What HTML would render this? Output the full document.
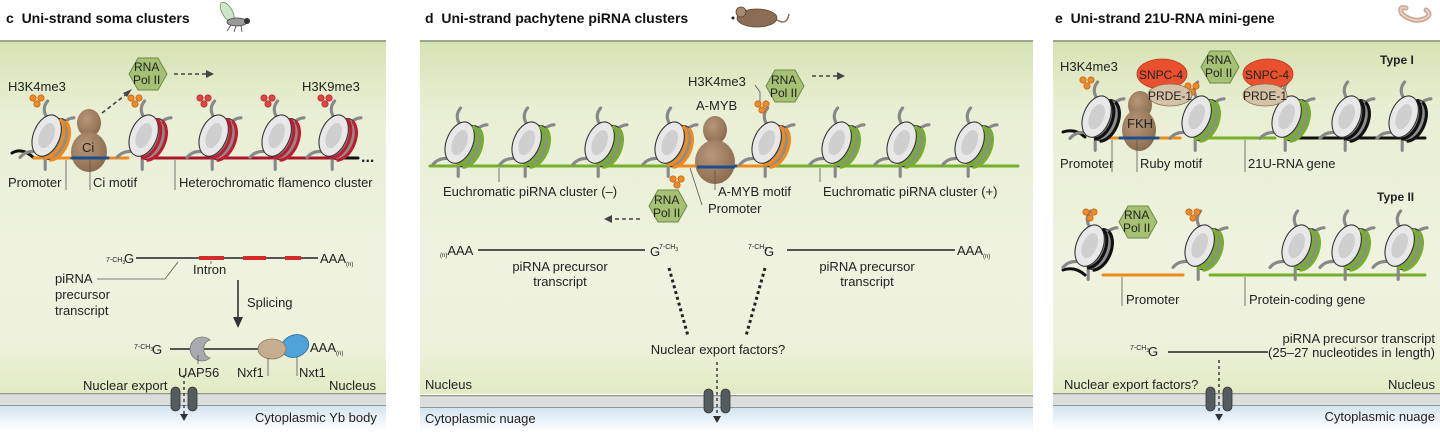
<!DOCTYPE html>
<html><head><meta charset="utf-8">
<style>
html,body{margin:0;padding:0;background:#fff;}
svg{display:block;}
text{font-family:"Liberation Sans",sans-serif;fill:#222;}
.t{font-size:13px;}
.h{font-size:14px;font-weight:bold;fill:#111;}
.s{font-size:7px;}
</style></head>
<body>
<svg width="1440" height="443" viewBox="0 0 1440 443" xmlns="http://www.w3.org/2000/svg">
<defs>
<linearGradient id="bg" x1="0" y1="0" x2="0" y2="1">
<stop offset="0" stop-color="#d6e2b3"/>
<stop offset="0.2" stop-color="#e9efd4"/>
<stop offset="0.6" stop-color="#eef2df"/>
<stop offset="0.85" stop-color="#eef2dc"/>
<stop offset="1" stop-color="#e2eac4"/>
</linearGradient>
<linearGradient id="cy" x1="0" y1="0" x2="0" y2="1">
<stop offset="0" stop-color="#d3e4f0"/>
<stop offset="1" stop-color="#ffffff"/>
</linearGradient>
<radialGradient id="brown" cx="0.4" cy="0.35" r="0.7">
<stop offset="0" stop-color="#b8977a"/><stop offset="1" stop-color="#8a6a4e"/>
</radialGradient>
<symbol id="nuc" viewBox="-25 -32 50 64" width="50" height="64" overflow="visible">
<g transform="scale(1.2)">
<g fill="none" stroke="#888" stroke-width="2.6" stroke-linecap="round">
<path d="M-3,-17 q-4,-7 1,-13"/><path d="M9,-10 q6,-6 11,-6"/><path d="M-4,18 l0,9"/><path d="M-14,12 q-7,0 -11,5"/>
</g>
<g transform="rotate(22)">
<ellipse cx="5" cy="0" rx="11" ry="18" fill="#8d8d8d" stroke="#333" stroke-width="0.9"/>
<ellipse cx="-3" cy="0" rx="11" ry="18" fill="#e8e8e8" stroke="#333" stroke-width="0.9"/>
<ellipse cx="-3" cy="0" rx="6" ry="11" fill="#cfcfcf"/>
<path d="M2,-17 a11,18 0 0 1 0,35" fill="none" stroke="currentColor" stroke-width="2.6"/>
<path d="M7,-17 a11,18 0 0 1 0,35" fill="none" stroke="currentColor" stroke-width="2.6"/>
</g>
</g>
</symbol>
<symbol id="hex" viewBox="-20 -17 40 34" width="40" height="34" overflow="visible">
<polygon points="-19,0 -10,-16 10,-16 19,0 10,16 -10,16" fill="#a6c173" stroke="#6f8b45" stroke-width="1"/>
</symbol>
<symbol id="dots" viewBox="-7 -7 14 14" width="14" height="14" overflow="visible">
<circle cx="-4" cy="-3" r="3.2" fill="#f08a24" stroke="#b85a10" stroke-width="0.6"/>
<circle cx="4" cy="-3" r="3.2" fill="#f08a24" stroke="#b85a10" stroke-width="0.6"/>
<circle cx="0" cy="3" r="3.2" fill="#f08a24" stroke="#b85a10" stroke-width="0.6"/>
</symbol>
<symbol id="rdots" viewBox="-7 -7 14 14" width="14" height="14" overflow="visible">
<circle cx="-4" cy="-3" r="3.2" fill="#e24444" stroke="#a02020" stroke-width="0.6"/>
<circle cx="4" cy="-3" r="3.2" fill="#e24444" stroke="#a02020" stroke-width="0.6"/>
<circle cx="0" cy="3" r="3.2" fill="#e24444" stroke="#a02020" stroke-width="0.6"/>
</symbol>
<symbol id="pore" viewBox="0 0 30 30" width="30" height="30" overflow="visible">
<rect x="0" y="0" width="9" height="24" rx="4.5" fill="#555c60" stroke="#333" stroke-width="0.8"/>
<rect x="17" y="0" width="9" height="24" rx="4.5" fill="#555c60" stroke="#333" stroke-width="0.8"/>
</symbol>
</defs>

<g>
<rect x="0" y="40" width="386" height="354" fill="url(#bg)"/>
<rect x="420" y="40" width="613" height="354" fill="url(#bg)"/>
<rect x="1053" y="40" width="387" height="354" fill="url(#bg)"/>
<rect x="0" y="40" width="386" height="2" fill="#9aa78a"/>
<rect x="420" y="40" width="613" height="2" fill="#9aa78a"/>
<rect x="1053" y="40" width="387" height="2" fill="#9aa78a"/>
<rect x="0" y="393" width="386" height="12" fill="#dcdedd"/>
<rect x="420" y="395" width="613" height="12" fill="#dcdedd"/>
<rect x="1053" y="393" width="387" height="12" fill="#dcdedd"/>
<rect x="0" y="393" width="386" height="1.3" fill="#8f9891"/><rect x="0" y="405" width="386" height="1.3" fill="#8f9891"/>
<rect x="420" y="395" width="613" height="1.3" fill="#8f9891"/><rect x="420" y="407" width="613" height="1.3" fill="#8f9891"/>
<rect x="1053" y="393" width="387" height="1.3" fill="#8f9891"/><rect x="1053" y="405" width="387" height="1.3" fill="#8f9891"/>
<rect x="0" y="406" width="386" height="24" fill="url(#cy)"/>
<rect x="420" y="408" width="613" height="24" fill="url(#cy)"/>
<rect x="1053" y="406" width="387" height="24" fill="url(#cy)"/>
</g>

<text x="6" y="23" class="h">c&#160;&#160;Uni-strand soma clusters</text>
<text x="425" y="23" class="h">d&#160;&#160;Uni-strand pachytene piRNA clusters</text>
<text x="1055" y="23" class="h">e&#160;&#160;Uni-strand 21U-RNA mini-gene</text>
<g transform="translate(233,18)">
<ellipse cx="-2" cy="-8" rx="5" ry="11" transform="rotate(-30)" fill="#cfe6c8" stroke="#6b8a67" stroke-width="0.8"/>
<ellipse cx="4" cy="4" rx="10" ry="4" fill="#999" stroke="#444" stroke-width="0.8"/>
<circle cx="14" cy="3" r="3" fill="#333"/>
<path d="M-2,7 l-4,6 M3,8 l-2,6 M8,8 l1,6" stroke="#444" stroke-width="0.8"/>
</g>
<g transform="translate(757,18)">
<ellipse cx="0" cy="0" rx="20" ry="9" fill="#8b6d55" stroke="#5a4432" stroke-width="0.8"/>
<ellipse cx="-16" cy="-6" rx="5" ry="5" fill="#a88a72" stroke="#5a4432" stroke-width="0.8"/>
<circle cx="-24" cy="0" r="1.5" fill="#222"/>
<path d="M20,2 q10,6 12,-6" fill="none" stroke="#8b6d55" stroke-width="1.5"/>
</g>
<g transform="translate(1418,18)">
<path d="M-12,-10 q-8,-2 -4,6 q12,10 24,4 q6,-4 0,-8" fill="none" stroke="#c9a594" stroke-width="5" stroke-linecap="round"/>
<path d="M-12,-10 q-8,-2 -4,6 q12,10 24,4 q6,-4 0,-8" fill="none" stroke="#e8d0c2" stroke-width="2" stroke-linecap="round"/>
</g>

<!-- PANEL C -->
<g fill="none" stroke-width="3" stroke-linecap="round">
<path d="M12,153 q10,-6 22,5" stroke="#111"/>
<path d="M34,158 L128,158" stroke="#ee8a1e"/>
<path d="M72,158 L108,158" stroke="#1d4f8c"/>
<path d="M148,158 L342,158" stroke="#a8182a"/>
<path d="M342,158 L358,158" stroke="#111"/>
</g>
<text x="361" y="162" style="font-size:16px;font-weight:bold">...</text>
<use href="#nuc" x="25" y="105" style="color:#ee8a1e"/>
<use href="#nuc" x="122" y="105" style="color:#c01c30"/>
<use href="#nuc" x="192" y="105" style="color:#c01c30"/>
<use href="#nuc" x="255" y="105" style="color:#c01c30"/>
<use href="#nuc" x="312" y="105" style="color:#c01c30"/>
<use href="#dots" x="30" y="94"/>
<use href="#dots" x="128" y="94"/>
<use href="#rdots" x="197" y="94"/>
<use href="#rdots" x="261" y="94"/>
<use href="#rdots" x="318" y="94"/>
<g>
<ellipse cx="89" cy="123" rx="12" ry="14" fill="url(#brown)"/>
<ellipse cx="89" cy="152" rx="18" ry="20" fill="url(#brown)"/>
<path d="M72,158 L108,158" stroke="#1d4f8c" stroke-width="3"/>
<text x="82" y="152" class="t">Ci</text>
</g>
<use href="#hex" x="128" y="57"/>
<text x="134" y="71" class="t" style="font-size:12px">RNA</text>
<text x="133" y="84" class="t" style="font-size:12px">Pol II</text>
<path d="M102,113 L128,93" stroke="#444" stroke-width="1.6" stroke-dasharray="4,3"/>
<polygon points="132,89 123,93 127,97" fill="#444"/>
<path d="M174,74 L207,74" stroke="#444" stroke-width="1.6" stroke-dasharray="4,3"/>
<polygon points="214,74 206,70 206,78" fill="#444"/>
<text x="8" y="91" class="t">H3K4me3</text>
<text x="302" y="91" class="t">H3K9me3</text>
<g stroke="#555" stroke-width="0.8"><path d="M66,160 V190"/><path d="M90,160 V190"/><path d="M175,160 V190"/></g>
<text x="8" y="187" class="t">Promoter</text>
<text x="93" y="187" class="t">Ci motif</text>
<text x="179" y="187" class="t">Heterochromatic flamenco cluster</text>
<text x="106" y="262" class="s">7-CH<tspan dy="2" style="font-size:5px">3</tspan></text>
<text x="124" y="263" class="t">G</text>
<path d="M136,258 H318" stroke="#222" stroke-width="1.6"/>
<path d="M199,258 H224 M243,258 H266 M285,258 H301" stroke="#d62a2a" stroke-width="4"/>
<text x="320" y="263" class="t">AAA<tspan dy="3" style="font-size:6px">(n)</tspan></text>
<path d="M211,261 V264" stroke="#555" stroke-width="0.8"/>
<text x="193" y="274" class="t">Intron</text>
<path d="M97,279 H165 L178,262" fill="none" stroke="#555" stroke-width="0.8"/>
<text x="55" y="283" class="t">piRNA</text>
<text x="55" y="299" class="t">precursor</text>
<text x="55" y="315" class="t">transcript</text>
<path d="M238,280 V318" stroke="#333" stroke-width="1.6"/>
<polygon points="238,328 233,317 243,317" fill="#333"/>
<text x="247" y="307" class="t">Splicing</text>
<text x="134" y="349" class="s">7-CH<tspan dy="2" style="font-size:5px">3</tspan></text>
<text x="152" y="354" class="t">G</text>
<path d="M170,349 H290" stroke="#222" stroke-width="1.6"/>
<path d="M210,340 a12,12 0 1 0 0,18 a8,8 0 0 1 -6,-9 a8,8 0 0 1 6,-9 z" fill="#a8aab0" stroke="#777" stroke-width="0.8"/>
<ellipse cx="295" cy="346" rx="14" ry="11" transform="rotate(-20 295 346)" fill="#4ea3d8" stroke="#2b6f9f" stroke-width="0.8"/>
<ellipse cx="272" cy="349" rx="14" ry="10" fill="#c5ad8f" stroke="#8a7257" stroke-width="0.8"/>
<text x="310" y="352" class="t">AAA<tspan dy="3" style="font-size:6px">(n)</tspan></text>
<g stroke="#555" stroke-width="0.8"><path d="M198,355 V364"/><path d="M268,358 V376"/><path d="M297,357 V376"/></g>
<text x="178" y="377" class="t">UAP56</text>
<text x="237" y="377" class="t">Nxf1</text>
<text x="299" y="377" class="t">Nxt1</text>
<text x="83" y="390" class="t">Nuclear export</text>
<text x="329" y="390" class="t">Nucleus</text>
<text x="255" y="422" class="t">Cytoplasmic Yb body</text>
<use href="#pore" x="171" y="387"/>
<path d="M184,375 V416" stroke="#333" stroke-width="1.4" stroke-dasharray="3,3"/>
<polygon points="184,421 180,414 188,414" fill="#333"/>

<!-- PANEL D -->
<g fill="none" stroke-width="3" stroke-linecap="round">
<path d="M430,166 L683,166" stroke="#76b02a"/>
<path d="M678,166 L768,166" stroke="#ee8a1e"/>
<path d="M698,166 L736,166" stroke="#1d4f8c"/>
<path d="M768,166 L1018,166" stroke="#76b02a"/>
</g>
<use href="#nuc" x="438" y="112" style="color:#76b02a"/>
<use href="#nuc" x="505" y="112" style="color:#76b02a"/>
<use href="#nuc" x="578" y="112" style="color:#76b02a"/>
<use href="#nuc" x="648" y="112" style="color:#ee8a1e"/>
<use href="#nuc" x="745" y="112" style="color:#ee8a1e"/>
<use href="#nuc" x="815" y="112" style="color:#76b02a"/>
<use href="#nuc" x="880" y="112" style="color:#76b02a"/>
<use href="#nuc" x="948" y="112" style="color:#76b02a"/>
<ellipse cx="715" cy="130" rx="12" ry="14" fill="url(#brown)"/>
<ellipse cx="715" cy="162" rx="20" ry="22" fill="url(#brown)"/>
<path d="M697,167 L735,167" stroke="#1d4f8c" stroke-width="3"/>
<text x="696" y="110" class="t">A-MYB</text>
<text x="688" y="86" class="t">H3K4me3</text>
<path d="M755,85 L760,92 V104" fill="none" stroke="#555" stroke-width="0.8"/>
<use href="#dots" x="755" y="100"/>
<use href="#hex" x="765" y="69"/>
<text x="771" y="84" class="t" style="font-size:12px">RNA</text>
<text x="770" y="97" class="t" style="font-size:12px">Pol II</text>
<path d="M812,76 L838,76" stroke="#444" stroke-width="1.6" stroke-dasharray="4,3"/>
<polygon points="845,76 837,72 837,80" fill="#444"/>
<use href="#dots" x="670" y="175"/>
<use href="#hex" x="648" y="189"/>
<text x="654" y="204" class="t" style="font-size:12px">RNA</text>
<text x="653" y="217" class="t" style="font-size:12px">Pol II</text>
<path d="M640,219 L613,219" stroke="#444" stroke-width="1.6" stroke-dasharray="4,3"/>
<polygon points="604,219 612,215 612,223" fill="#444"/>
<g stroke="#555" stroke-width="0.8"><path d="M499,168 V182"/><path d="M715,170 V190"/><path d="M690,168 L702,205"/><path d="M820,168 V182"/></g>
<text x="443" y="196" class="t">Euchromatic piRNA cluster (–)</text>
<text x="718" y="196" class="t">A-MYB motif</text>
<text x="708" y="213" class="t">Promoter</text>
<text x="823" y="196" class="t">Euchromatic piRNA cluster (+)</text>
<text x="440" y="255" class="t"><tspan dy="2" style="font-size:6px">(n)</tspan><tspan dy="-2">AAA</tspan></text>
<path d="M478,250 H645" stroke="#222" stroke-width="1.6"/>
<text x="650" y="256" class="t">G</text>
<text x="659" y="249" class="s">7-CH<tspan dy="2" style="font-size:5px">3</tspan></text>
<text x="748" y="249" class="s">7-CH<tspan dy="2" style="font-size:5px">3</tspan></text>
<text x="764" y="256" class="t">G</text>
<path d="M787,250 H955" stroke="#222" stroke-width="1.6"/>
<text x="957" y="255" class="t">AAA<tspan dy="3" style="font-size:6px">(n)</tspan></text>
<text x="560" y="271" class="t" text-anchor="middle">piRNA precursor</text>
<text x="560" y="286" class="t" text-anchor="middle">transcript</text>
<text x="867" y="271" class="t" text-anchor="middle">piRNA precursor</text>
<text x="867" y="286" class="t" text-anchor="middle">transcript</text>
<path d="M669,268 L688,336" stroke="#222" stroke-width="3" stroke-dasharray="3,3"/>
<path d="M765,268 L746,336" stroke="#222" stroke-width="3" stroke-dasharray="3,3"/>
<text x="718" y="354" class="t" text-anchor="middle">Nuclear export factors?</text>
<text x="425" y="389" class="t">Nucleus</text>
<text x="425" y="423" class="t">Cytoplasmic nuage</text>
<use href="#pore" x="704" y="389"/>
<path d="M717,362 V418" stroke="#333" stroke-width="1.4" stroke-dasharray="3,3"/>
<polygon points="717,423 713,416 721,416" fill="#333"/>

<!-- PANEL E -->
<g fill="none" stroke-width="3" stroke-linecap="round">
<path d="M1063,132 q12,-4 22,5" stroke="#111"/>
<path d="M1105,138 L1180,138" stroke="#ee8a1e"/>
<path d="M1120,138 L1158,138" stroke="#1d4f8c"/>
<path d="M1205,138 L1275,138" stroke="#76b02a"/>
<path d="M1298,138 L1425,138" stroke="#111"/>
</g>
<use href="#nuc" x="1075" y="86" style="color:#111"/>
<use href="#nuc" x="1175" y="86" style="color:#76b02a"/>
<use href="#nuc" x="1265" y="86" style="color:#76b02a"/>
<use href="#nuc" x="1325" y="86" style="color:#111"/>
<use href="#nuc" x="1382" y="86" style="color:#111"/>
<use href="#dots" x="1080" y="76"/>
<use href="#dots" x="1185" y="82"/>
<text x="1060" y="71" class="t">H3K4me3</text>
<ellipse cx="1140" cy="105" rx="12" ry="14" fill="url(#brown)"/>
<ellipse cx="1139" cy="130" rx="17" ry="21" fill="url(#brown)"/>
<path d="M1120,138 L1158,138" stroke="#1d4f8c" stroke-width="3"/>
<text x="1127" y="128" class="t">FKH</text>
<ellipse cx="1162" cy="74" rx="25" ry="15" fill="#e9502d" stroke="#b8391f" stroke-width="0.8"/>
<text x="1139" y="79" class="t" style="font-size:12px">SNPC-4</text>
<ellipse cx="1170" cy="95" rx="22" ry="11" fill="#d6c2a6" stroke="#8a7257" stroke-width="0.8"/>
<text x="1148" y="100" class="t" style="font-size:12px">PRDE-1</text>
<use href="#hex" x="1200" y="50"/>
<text x="1206" y="64" class="t" style="font-size:12px">RNA</text>
<text x="1205" y="77" class="t" style="font-size:12px">Pol II</text>
<ellipse cx="1268" cy="74" rx="25" ry="15" fill="#e9502d" stroke="#b8391f" stroke-width="0.8"/>
<text x="1245" y="79" class="t" style="font-size:12px">SNPC-4</text>
<ellipse cx="1265" cy="95" rx="22" ry="11" fill="#d6c2a6" stroke="#8a7257" stroke-width="0.8"/>
<text x="1243" y="100" class="t" style="font-size:12px">PRDE-1</text>
<text x="1380" y="64" class="t" style="font-weight:bold;font-size:12px">Type I</text>
<g stroke="#555" stroke-width="0.8"><path d="M1112,140 V172"/><path d="M1137,140 V172"/><path d="M1245,140 V172"/></g>
<text x="1060" y="168" class="t">Promoter</text>
<text x="1140" y="168" class="t">Ruby motif</text>
<text x="1248" y="168" class="t">21U-RNA gene</text>

<text x="1377" y="201" class="t" style="font-weight:bold;font-size:12px">Type II</text>
<g fill="none" stroke-width="3" stroke-linecap="round">
<path d="M1063,270 q12,-4 22,5" stroke="#111"/>
<path d="M1103,275 L1183,275" stroke="#ee8a1e"/>
<path d="M1210,275 L1425,275" stroke="#76b02a"/>
</g>
<use href="#nuc" x="1068" y="215" style="color:#111"/>
<use href="#nuc" x="1178" y="215" style="color:#76b02a"/>
<use href="#nuc" x="1275" y="215" style="color:#76b02a"/>
<use href="#nuc" x="1325" y="215" style="color:#76b02a"/>
<use href="#nuc" x="1378" y="215" style="color:#76b02a"/>
<use href="#dots" x="1083" y="208"/>
<use href="#dots" x="1186" y="208"/>
<use href="#hex" x="1118" y="205"/>
<text x="1124" y="219" class="t" style="font-size:12px">RNA</text>
<text x="1123" y="232" class="t" style="font-size:12px">Pol II</text>
<g stroke="#555" stroke-width="0.8"><path d="M1122,277 V306"/><path d="M1245,277 V306"/></g>
<text x="1126" y="304" class="t">Promoter</text>
<text x="1249" y="304" class="t">Protein-coding gene</text>
<text x="1130" y="350" class="s">7-CH<tspan dy="2" style="font-size:5px">3</tspan></text>
<text x="1148" y="356" class="t">G</text>
<path d="M1168,352 H1268" stroke="#222" stroke-width="1.6"/>
<text x="1435" y="343" class="t" text-anchor="end">piRNA precursor transcript</text>
<text x="1435" y="357" class="t" text-anchor="end">(25–27 nucleotides in length)</text>
<text x="1064" y="389" class="t">Nuclear export factors?</text>
<text x="1435" y="389" class="t" text-anchor="end">Nucleus</text>
<text x="1435" y="421" class="t" text-anchor="end">Cytoplasmic nuage</text>
<use href="#pore" x="1206" y="387"/>
<path d="M1219,360 V416" stroke="#333" stroke-width="1.4" stroke-dasharray="3,3"/>
<polygon points="1219,421 1215,414 1223,414" fill="#333"/>
</svg>
</body></html>
